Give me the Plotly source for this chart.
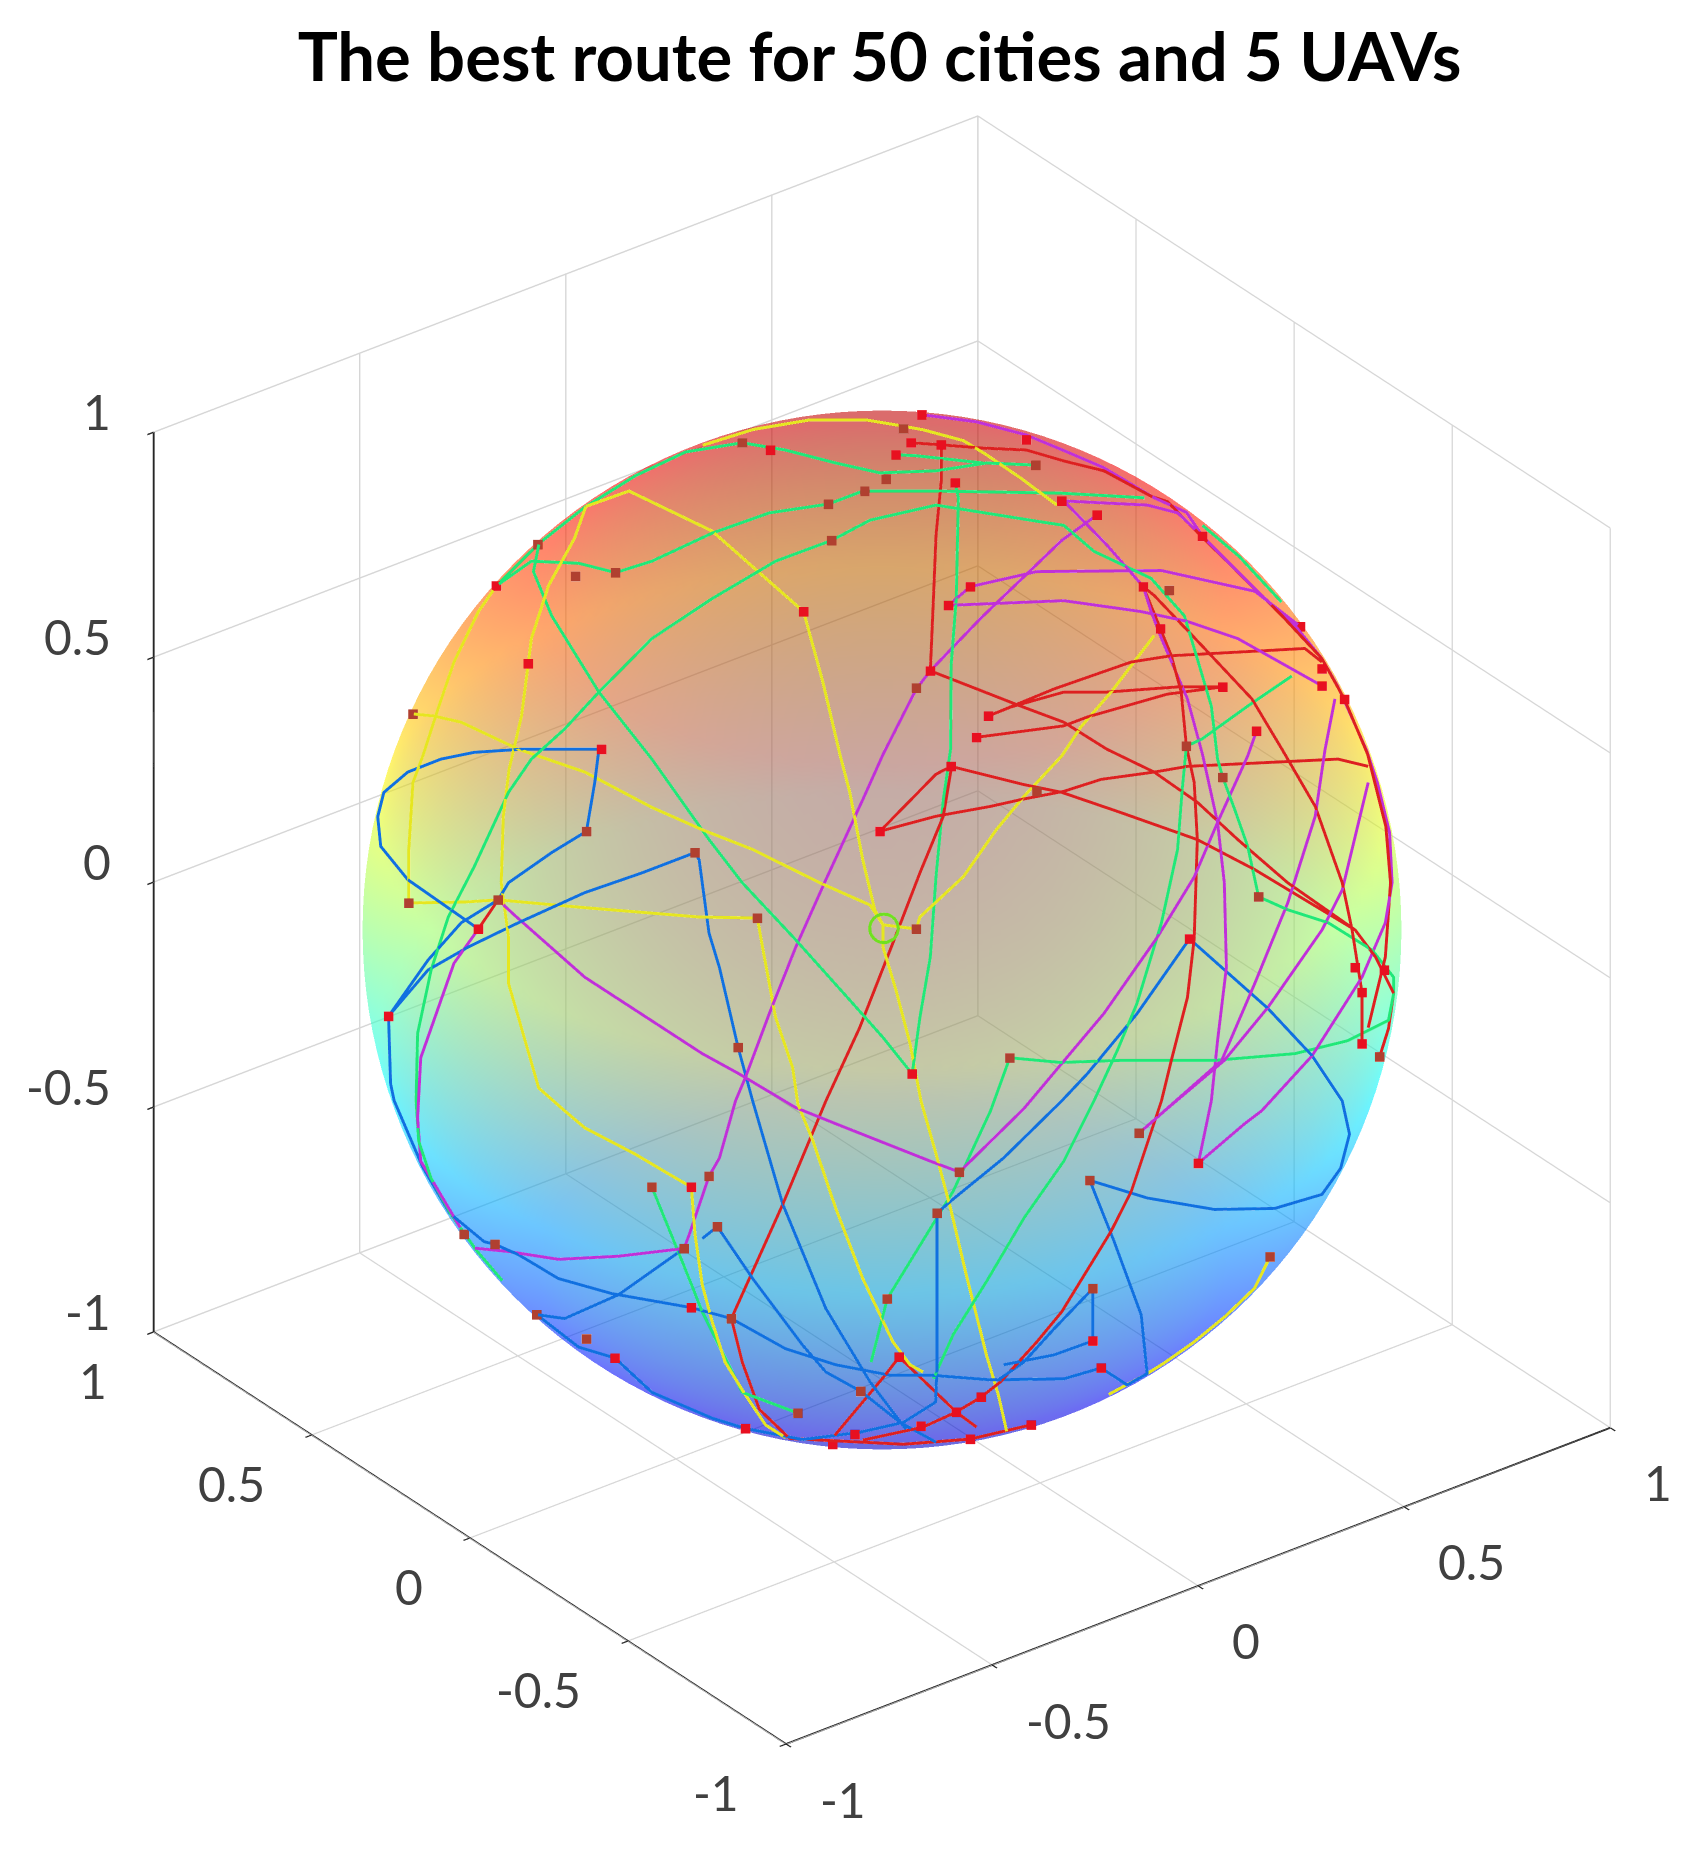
import numpy as np
import plotly.graph_objects as go

# Route readings: (u, v) on the unit sphere as seen along the view direction,
# u to the right, v upward. One inner list per stretch of route.
yellow_route = [
    [(-.903,.416),(-.863,.412),(-.810,.400),(-.700,.348),(-.572,.304),(-.443,.236),(-.346,.193),(-.249,.155),(-.120,.091),(-.023,.048),(.002,.010)],
    [(-.743,.663),(-.777,.613),(-.824,.516),(-.855,.425),(-.884,.335),(-.903,.284),(-.911,.155),(-.911,.052)],
    [(-.911,.052),(-.801,.054),(-.739,.058),(-.572,.043),(-.352,.025),(-.240,.023),(-.230,-.033),(-.205,-.168),(-.172,-.265),(-.162,-.335),(-.133,-.406),(-.089,-.536),(-.037,-.671),(.021,-.793),(.054,-.837),(.079,-.851)],
    [(.002,.010),(.002,-.033),(.027,-.116),(.054,-.219),(.075,-.329),(.104,-.431),(.132,-.536),(.162,-.663),(.201,-.818),(.224,-.895),(.240,-.965)],
    [(-.151,.613),(-.327,.768),(-.487,.845),(-.572,.818),(-.592,.754),(-.642,.663),(-.675,.561),(-.681,.513),(-.694,.412),(-.718,.309),(-.729,.219),(-.733,.091),(-.719,-.014),(-.719,-.103),(-.700,-.168),(-.661,-.304),(-.611,-.348),(-.572,-.381),(-.476,-.431),(-.410,-.470),(-.367,-.495),(-.360,-.586),(-.346,-.683),(-.327,-.754),(-.302,-.832),(-.263,-.895),(-.224,-.953),(-.186,-.980)],
    [(-.151,.613),(-.114,.478),(-.081,.338),(-.062,.265),(-.037,.135),(-.014,.039),(.002,.010)],
    [(.002,.010),(.066,.002),(.073,.025),(.157,.103),(.220,.193),(.273,.257),(.346,.335),(.383,.391),(.441,.458),(.505,.542),(.524,.567)],
    [(-.346,.935),(-.249,.965),(-.139,.982),(-.031,.982),(.035,.971),(.079,.963),(.157,.942),(.201,.915),(.267,.870),(.337,.818)],
    [(.747,-.629),(.718,-.690),(.665,-.748),(.601,-.796),(.543,-.835),(.511,-.855),(.437,-.895)],
]
green_route = [
    [(-.743,.663),(-.665,.750),(-.671,.690),(-.636,.605),(-.545,.458),(-.443,.329),(-.333,.174),(-.269,.091),(-.166,-.019),(-.062,-.135),(.002,-.207),(.058,-.277),(.073,-.168),(.093,-.052),(.104,.103),(.118,.251),(.132,.348),(.133,.509),(.143,.638),(.147,.832),(.141,.861)],
    [(-.743,.663),(-.675,.710),(-.584,.706),(-.513,.688),(-.443,.710),(-.327,.764),(-.217,.803),(-.103,.820),(-.037,.845),(.104,.845),(.344,.841),(.505,.832)],
    [(-.733,-.677),(-.785,-.619),(-.830,-.547),(-.868,-.478),(-.892,-.406),(-.897,-.329),(-.894,-.199),(-.868,-.077),(-.835,.025),(-.785,.122),(-.719,.265),(-.675,.329),(-.611,.387),(-.545,.458),(-.443,.561),(-.327,.638),(-.205,.710),(-.097,.750),(-.023,.789),(.104,.818),(.298,.787),(.350,.779),(.408,.729),(.518,.677),(.582,.605),(.607,.522),(.634,.431),(.646,.329),(.656,.294),(.679,.232),(.704,.161),(.725,.064),(.781,.039),(.859,.014),(.944,-.039),(.985,-.091),(.985,-.122),(.975,-.174),(.897,-.213),(.795,-.238),(.640,-.251),(.460,-.251),(.344,-.255),(.246,-.246),(.209,-.348),(.137,-.503),(.010,-.710),(-.021,-.832)],
    [(.586,.354),(.578,.271),(.569,.155),(.538,.014),(.491,-.141),(.453,-.232),(.408,-.329),(.350,-.445),(.273,-.555),(.201,-.677),(.137,-.779),(.099,-.864)],
    [(-.665,.750),(-.572,.815),(-.476,.876),(-.379,.922),(-.269,.938),(-.186,.924),(-.089,.899),(-.004,.880),(.104,.884),(.201,.899),(.296,.895)],
    [(.027,.915),(.066,.913),(.195,.899)],
    [(.586,.354),(.615,.367),(.704,.431),(.789,.489)],
    [(.617,.779),(.690,.721),(.770,.632)],
    [(-.443,-.495),(-.379,-.652),(-.346,-.735),(-.269,-.890),(-.162,-.930)],
]
blue_route = [
    [(-.540,.348),(-.694,.348),(-.785,.342),(-.849,.329),(-.913,.304),(-.960,.265),(-.975,.219),(-.965,.161),(-.913,.097),(-.830,.039),(-.777,.002)],
    [(-.545,.348),(-.553,.284),(-.569,.190),(-.636,.149),(-.719,.091),(-.739,.058),(-.810,.014),(-.874,-.058),(-.950,-.166)],
    [(-.360,.149),(-.462,.110),(-.572,.072),(-.700,.014),(-.797,-.033),(-.874,-.077),(-.950,-.166)],
    [(-.360,.149),(-.352,.135),(-.333,-.006),(-.313,-.072),(-.277,-.226),(-.249,-.329),(-.191,-.528),(-.108,-.729),(-.023,-.870),(.046,-.961)],
    [(-.950,-.166),(-.946,-.296),(-.940,-.329),(-.888,-.458),(-.835,-.547),(-.766,-.600),(-.745,-.605),(-.700,-.625),(-.623,-.671),(-.520,-.700),(-.367,-.727),(-.290,-.748),(-.186,-.806),(-.089,-.837),(.015,-.857),(.093,-.857),(.209,-.866),(.350,-.864),(.422,-.843),(.472,-.876),(.511,-.855),(.499,-.741),(.447,-.600),(.400,-.482),(.511,-.516),(.640,-.538),(.756,-.536),(.847,-.509),(.885,-.460),(.900,-.393),(.886,-.329),(.828,-.242),(.743,-.151),(.592,-.017),(.491,-.161),(.395,-.277),(.346,-.329),(.234,-.439),(.137,-.518),(.106,-.545),(.106,-.845),(.103,-.909),(.041,-.948),(-.043,-.967),(-.153,-.981)],
    [(-.381,-.613),(-.507,-.702),(-.611,-.748),(-.667,-.743),(-.584,-.803),(-.514,-.824),(-.443,-.890),(-.327,-.940),(-.263,-.960),(-.153,-.981)],
    [(-.346,-.594),(-.317,-.571),(-.249,-.671),(-.153,-.799),(-.108,-.851),(-.041,-.888),(.035,-.948),(.104,-.986)],
    [(.406,-.690),(.406,-.791),(.331,-.818),(.234,-.837)],
    [(.406,-.690),(.331,-.768),(.273,-.832),(.224,-.866)],
]
magenta_route = [
    [(.077,.995),(.182,.982),(.278,.953),(.350,.923),(.427,.890),(.524,.832),(.588,.806),(.617,.758),(.654,.721),(.731,.644),(.795,.586),(.847,.523),(.878,.470),(.938,.348),(.955,.284),(.980,.188),(.982,.091),(.969,.014),(.924,-.091),(.828,-.242),(.731,-.348),(.698,-.373),(.609,-.449),(.634,-.329),(.646,-.213),(.663,-.072),(.659,.091),(.646,.207),(.617,.338),(.588,.445),(.538,.561),(.518,.613),(.503,.661),(.433,.741),(.350,.826),(.511,.818),(.569,.803),(.617,.758)],
    [(.128,.625),(.350,.634),(.499,.613),(.588,.594),(.685,.561),(.847,.470)],
    [(.128,.625),(.170,.661),(.298,.690),(.538,.692),(.718,.652),(.808,.586)],
    [(.414,.799),(.346,.750),(.190,.600),(.093,.499),(.066,.464),(.002,.338),(-.037,.251),(-.108,.097),(-.166,-.033),(-.217,-.161),(-.263,-.284),(-.282,-.329),(-.313,-.439),(-.333,-.474),(-.371,-.586),(-.381,-.613),(-.507,-.628),(-.623,-.634),(-.719,-.619),(-.785,-.613)],
    [(-.739,.058),(-.708,.029),(-.572,-.091),(-.346,-.238),(-.275,-.277),(-.166,-.342),(-.089,-.373),(.093,-.445),(.149,-.466),(.273,-.344),(.346,-.257),(.427,-.161),(.530,-.014),(.601,.102),(.646,.207),(.704,.335),(.721,.383)],
    [(.495,-.391),(.549,-.344),(.659,-.251),(.743,-.149),(.847,.000),(.886,.077),(.936,.284)],
    [(.495,-.391),(.654,-.251),(.718,-.102),(.781,.052),(.834,.219),(.853,.348),(.872,.445)],
    [(-.777,.002),(-.824,-.064),(-.849,-.135),(-.888,-.246),(-.894,-.362),(-.888,-.445),(-.855,-.500),(-.805,-.586)],
]
red_route = [
    [(.093,.499),(.099,.638),(.104,.760),(.114,.864),(.114,.934),(.056,.938)],
    [(.114,.934),(.190,.928),(.278,.924),(.350,.903),(.427,.884),(.518,.835),(.549,.825),(.615,.758),(.770,.605),(.847,.523),(.892,.445),(.935,.338),(.970,.199),(.979,.091),(.969,-.052),(.950,-.130),(.936,-.188)],
    [(.093,.499),(.267,.431),(.350,.400),(.433,.348),(.524,.304),(.607,.246),(.685,.174),(.781,.091),(.911,.000),(.950,-.052),(.985,-.122),(.975,-.190),(.958,-.244)],
    [(.205,.412),(.247,.429),(.350,.458),(.433,.458),(.569,.468),(.656,.468)],
    [(.205,.412),(.331,.464),(.480,.516),(.557,.528),(.814,.542),(.847,.516)],
    [(.182,.371),(.350,.393),(.395,.410),(.549,.454),(.656,.468)],
    [(-.004,.190),(.104,.300),(.133,.315)],
    [(-.004,.190),(.104,.219),(.209,.238),(.267,.251),(.350,.267),(.422,.290),(.524,.304),(.588,.315),(.878,.329),(.936,.315)],
    [(.133,.315),(.273,.280),(.346,.265),(.460,.226),(.607,.174),(.718,.116),(.911,.000)],
    [(.503,.661),(.536,.580),(.557,.528),(.576,.458),(.586,.354),(.601,.284),(.607,.174),(.601,-.017),(.588,-.130),(.557,-.251),(.538,-.329),(.480,-.503),(.441,-.580),(.346,-.735),(.298,-.793),(.228,-.870),(.191,-.899),(.143,-.928),(.079,-.957),(-.037,-.982)],
    [(.503,.661),(.524,.644),(.621,.542),(.712,.445),(.770,.348),(.834,.238),(.886,.091),(.905,.000),(.924,-.120),(.924,-.219)],
    [(.133,.309),(.118,.219),(.073,.110),(.021,-.025),(-.043,-.188),(-.108,-.329),(-.191,-.528),(-.290,-.748),(-.269,-.832),(-.236,-.923),(-.178,-.980),(.041,-.990),(.170,-.980),(.288,-.955)],
    [(-.091,-.973),(.006,-.857),(.033,-.822),(.143,-.928),(.182,-.957)],
    [(-.777,.002),(-.739,.058)],
]
cities_bright = [(-.743,.663),(-.681,.513),(-.540,.348),(-.215,.924),(.077,.995),(.056,.938),(.027,.915),(.114,.934),(.278,.944),(.141,.861),(.346,.826),(-.151,.613),(.170,.661),(.128,.625),(.093,.499),(.205,.412),(.182,.371),(.414,.799),(.617,.758),(.503,.661),(.536,.580),(.808,.586),(.847,.503),(.847,.470),(.892,.445),(.656,.468),(.721,.383),(-.777,.002),(-.950,-.166),(.133,.315),(-.004,.190),(.058,-.277),(.592,-.017),(.924,-.219),(.911,-.072),(.967,-.077),(.924,-.120),(-.367,-.495),(-.367,-.727),(-.514,-.824),(.033,-.822),(-.263,-.960),(.191,-.899),(.143,-.928),(.075,-.955),(.288,-.955),(.170,-.980),(-.052,-.971),(-.095,-.990),(.609,-.449),(.406,-.791),(.422,-.843)]
cities_dim = [(-.665,.745),(-.590,.681),(-.513,.688),(-.903,.416),(-.269,.938),(.041,.965),(.296,.895),(.008,.868),(-.033,.845),(-.103,.820),(-.097,.750),(.066,.466),(.553,.654),(.586,.354),(-.569,.190),(-.360,.149),(-.911,.052),(-.739,.058),(-.240,.023),(.066,.002),(-.277,-.226),(.246,-.246),(.298,.267),(.656,.294),(.725,.064),(.958,-.244),(-.805,-.586),(-.745,-.605),(-.443,-.495),(-.333,-.474),(-.381,-.613),(-.667,-.743),(-.569,-.787),(-.317,-.571),(-.290,-.748),(.010,-.710),(.106,-.545),(.149,-.466),(-.041,-.888),(-.162,-.930),(.495,-.391),(.400,-.482),(.747,-.629),(.406,-.690)]
depot = [(.002,.004)]

tick_vals = [-1, -0.5, 0, 0.5, 1]
tick_text = ["-1", "-0.5", "0", "0.5", "1"]

# MATLAB default 3-D view, az -37.5, el 30
az, el = np.radians(-37.5), np.radians(30)
W = np.array([np.sin(az) * np.cos(el), -np.cos(az) * np.cos(el), np.sin(el)])
U = np.array([np.cos(az), np.sin(az), 0.0])
V = np.cross(W, U)


def to_xyz(points, depth):
    out = []
    for u, v in points:
        r = np.hypot(u, v)
        if r > 0.995:
            u, v = u * 0.995 / r, v * 0.995 / r
        w = np.sqrt(max(0.0, 1 - u * u - v * v))
        out.append(u * U + v * V + depth * w * W)
    return np.array(out)


def route_trace(segments, color, width=6):
    xs, ys, zs = [], [], []
    for seg in segments:
        p = to_xyz(seg, 0.93)
        xs += list(p[:, 0]) + [None]
        ys += list(p[:, 1]) + [None]
        zs += list(p[:, 2]) + [None]
    return go.Scatter3d(x=xs, y=ys, z=zs, mode="lines", line=dict(color=color, width=width), hoverinfo="skip")


def city_trace(points, color, symbol="square", size=5):
    p = to_xyz(points, 1.0)
    return go.Scatter3d(x=p[:, 0], y=p[:, 1], z=p[:, 2], mode="markers", hoverinfo="skip",
                        marker=dict(color=color, size=size, symbol=symbol, line=dict(width=0)))


def jet(t):
    t = np.clip(t, 0, 1)
    r = np.interp(t, [0, .375, .625, .875, 1], [0, 0, 1, 1, .5])
    g = np.interp(t, [0, .125, .375, .625, .875, 1], [0, 0, 1, 1, 0, 0])
    b = np.interp(t, [0, .125, .375, .625, 1], [.5, 1, 1, 0, 0])
    return np.stack([r, g, b], axis=-1)


# Sphere: two see-through layers (alpha .35) flattened into one mesh facing the viewer
alpha = 0.35
mesh_opacity = 1 - (1 - alpha) ** 2
rings = np.sin(np.linspace(0, np.pi / 2, 70))
angles = np.linspace(0, 2 * np.pi, 160, endpoint=False)
rr, aa = np.meshgrid(rings, angles, indexing="ij")
mu, mv = (rr * np.cos(aa)).ravel(), (rr * np.sin(aa)).ravel()
mw = np.sqrt(np.clip(1 - mu ** 2 - mv ** 2, 0, 1))
zf = mu * U[2] + mv * V[2] + mw * W[2]
zb = mu * U[2] + mv * V[2] - mw * W[2]
premult = alpha * jet((zf + 1) / 2) + (1 - alpha) * alpha * jet((zb + 1) / 2)
vcolor = np.clip(premult / mesh_opacity, 0, 1)
mesh_colors = ["rgb(%d,%d,%d)" % tuple(c) for c in (vcolor * 255).astype(int)]
mesh_pts = np.outer(mu, U) + np.outer(mv, V) + np.outer(0.6 * mw - 0.12, W)
na = len(angles)
tri_i, tri_j, tri_k = [], [], []
for a in range(len(rings) - 1):
    for b in range(na):
        p00, p01 = a * na + b, a * na + (b + 1) % na
        p10, p11 = (a + 1) * na + b, (a + 1) * na + (b + 1) % na
        tri_i += [p00, p01]
        tri_j += [p10, p10]
        tri_k += [p01, p11]

fig = go.Figure()
fig.add_trace(go.Mesh3d(x=mesh_pts[:, 0], y=mesh_pts[:, 1], z=mesh_pts[:, 2], i=tri_i, j=tri_j, k=tri_k,
                        vertexcolor=mesh_colors, opacity=mesh_opacity, hoverinfo="skip",
                        lighting=dict(ambient=1, diffuse=0, specular=0, roughness=1, fresnel=0)))
fig.add_trace(route_trace(yellow_route, "#e6e620"))
fig.add_trace(route_trace(green_route, "#20e878"))
fig.add_trace(route_trace(blue_route, "#1070e0"))
fig.add_trace(route_trace(magenta_route, "#c030d8"))
fig.add_trace(route_trace(red_route, "#dd2020"))
fig.add_trace(city_trace(cities_dim, "#b04030"))
fig.add_trace(city_trace(cities_bright, "#e81020"))
fig.add_trace(city_trace(depot, "#70e020", symbol="circle-open", size=18))

axis = dict(range=[-1, 1], tickvals=tick_vals, title="", showbackground=False, showticklabels=False,
            gridcolor="#d6d6d6", gridwidth=3, zeroline=False, showline=True, linecolor="#262626", linewidth=4,
            ticks="outside", ticklen=8, tickcolor="#262626", tickwidth=3,
            showspikes=False, autorange=False)
tick_font = dict(family="Lato", size=48, color="#404040")
labels = []
for val, txt in zip(tick_vals, tick_text):
    labels.append(dict(x=-1, y=1, z=val, text=txt, showarrow=False, xanchor="right", yanchor="middle",
                       xshift=-41, yshift=21, font=tick_font))
    labels.append(dict(x=val, y=-1, z=-1, text=txt, showarrow=False, xanchor="left", yanchor="middle",
                       xshift=32, yshift=-55, font=tick_font))
    labels.append(dict(x=-1, y=val, z=-1, text=txt, showarrow=False, xanchor="right", yanchor="middle",
                       xshift=-45, yshift=-48, font=tick_font))

eye = W * 2.165
fig.update_layout(
    width=1699, height=1851, showlegend=False, paper_bgcolor="white",
    margin=dict(l=0, r=0, t=0, b=0),
    title=dict(text="<b>The best route for 50 cities and 5 UAVs</b>", x=0.513, xanchor="center", y=0.9735, yanchor="middle",
               font=dict(family="Lato", size=67, color="#000000")),
    scene=dict(
        domain=dict(x=[0.032, 0.997], y=[0.0043, 0.9993]),
        xaxis=axis, yaxis=axis, zaxis=axis,
        aspectmode="manual",
        aspectratio=dict(x=1.128, y=1.128, z=1.128),
        annotations=labels,
        camera=dict(eye=dict(x=eye[0], y=eye[1], z=eye[2]), up=dict(x=0, y=0, z=1), center=dict(x=0, y=0, z=0),
                    projection=dict(type="orthographic")),
    ),
)
fig.write_html("out.html")
